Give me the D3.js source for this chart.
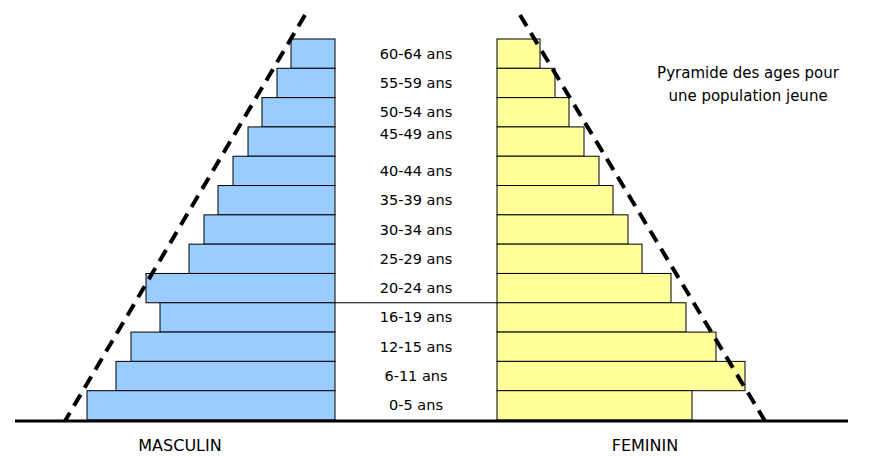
<!DOCTYPE html>
<html><head><meta charset="utf-8">
<script src="https://cdn.jsdelivr.net/npm/d3@7"></script>
<style>body{margin:0;background:#fff}svg{font-family:"DejaVu Sans",Verdana,sans-serif}</style>
</head><body><svg id="chart" width="876" height="456"></svg>
<script>
// -- DONNEES --
const ages = ["60-64 ans","55-59 ans","50-54 ans","45-49 ans","40-44 ans","35-39 ans","30-34 ans",
  "25-29 ans","20-24 ans","16-19 ans","12-15 ans","6-11 ans","0-5 ans"];
const masculin = [44,58,73,87,102,117,131,146,189,175,204,219,248];
const feminin = [43,58,72,87,102,116,131,145,174,189,219,248,195];
// label offsets (the 45-49 label sits higher in the original)
const labelShift = [0,0,0,-8,0,0,0,0,0,0,0,0,0];

const svg = d3.select("#chart");
const y = d3.scaleBand().domain(ages).range([39, 420]);
const xM = d3.scaleLinear().domain([0, 250]).range([335, 85]);
const xF = d3.scaleLinear().domain([0, 250]).range([497, 747]);

// -- BARRES --
svg.selectAll(".m").data(ages).enter().append("rect")
  .attr("x", (d, i) => xM(masculin[i])).attr("y", d => y(d))
  .attr("width", (d, i) => xM(0) - xM(masculin[i])).attr("height", y.bandwidth())
  .attr("fill", "#99CCFF").attr("stroke", "#000");
svg.selectAll(".f").data(ages).enter().append("rect")
  .attr("x", xF(0)).attr("y", d => y(d))
  .attr("width", (d, i) => xF(feminin[i]) - xF(0)).attr("height", y.bandwidth())
  .attr("fill", "#FFFF99").attr("stroke", "#000");

svg.append("line").attr("x1", 335).attr("x2", 497)
  .attr("y1", y("16-19 ans")).attr("y2", y("16-19 ans")).attr("stroke", "#000");

svg.selectAll(".lab").data(ages).enter().append("text")
  .attr("x", 416).attr("y", (d, i) => y(d) + y.bandwidth() / 2 + 5 + labelShift[i])
  .attr("text-anchor", "middle").attr("font-size", 14.5).text(d => d);

// -- POINTILLES --
svg.append("line").attr("x1", 305).attr("y1", 15).attr("x2", 65).attr("y2", 421)
  .attr("stroke", "#000").attr("stroke-width", 4).attr("stroke-dasharray", "13,8");
svg.append("line").attr("x1", 520).attr("y1", 15).attr("x2", 765).attr("y2", 421)
  .attr("stroke", "#000").attr("stroke-width", 4).attr("stroke-dasharray", "13,8");

svg.append("line").attr("x1", 15).attr("x2", 848).attr("y1", 421).attr("y2", 421)
  .attr("stroke", "#000").attr("stroke-width", 3);

svg.append("text").attr("x", 180).attr("y", 451).attr("text-anchor", "middle")
  .attr("font-size", 16).text("MASCULIN");
svg.append("text").attr("x", 645).attr("y", 451).attr("text-anchor", "middle")
  .attr("font-size", 16).text("FEMININ");
const t = svg.append("text").attr("text-anchor", "middle").attr("font-size", 15);
t.append("tspan").attr("x", 748).attr("y", 78).text("Pyramide des ages pour");
t.append("tspan").attr("x", 748).attr("y", 101).text("une population jeune");
</script></body></html>
